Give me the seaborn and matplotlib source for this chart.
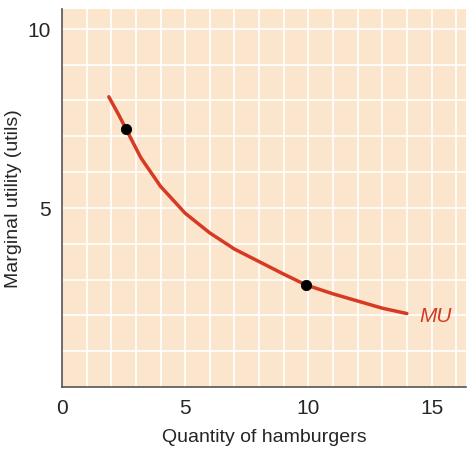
import matplotlib
matplotlib.use("Agg")
import matplotlib.pyplot as plt
import seaborn as sns

curve_x = [1.9, 2.3, 2.6, 3.2, 4.0, 5.0, 6.0, 7.0, 8.0, 9.0, 9.9, 11.0, 12.0, 13.0, 14.0]
curve_y = [8.1, 7.6, 7.2, 6.4, 5.6, 4.85, 4.3, 3.85, 3.5, 3.15, 2.85, 2.6, 2.4, 2.2, 2.05]
pts_x = [2.6, 9.9]
pts_y = [7.2, 2.85]

sns.set_style("white")
plt.rcParams['font.family'] = ['Liberation Sans', 'DejaVu Sans']
fig = plt.figure(figsize=(4.74, 4.52), dpi=100)
ax = fig.add_axes([62/474, 64/452, 404/474, 378/452])
ax.set_facecolor('#fbe5cc')
ax.set_xlim(0, 16.4)
ax.set_ylim(0, 10.55)
for v in range(1, 17):
    ax.axvline(v, color='white', lw=1.2, zorder=1)
for v in range(1, 11):
    ax.axhline(v, color='white', lw=1.2, zorder=1)
sns.lineplot(x=curve_x, y=curve_y, ax=ax, color='#d63a22', lw=2.5, zorder=3)
sns.scatterplot(x=pts_x, y=pts_y, ax=ax, color='black', s=55, zorder=4, edgecolor='black')
ax.text(14.5, 2.0, 'MU', color='#d63a22', fontsize=15, style='italic', va='center')
ax.set_xticks([0, 5, 10, 15])
ax.set_yticks([5, 10])
ax.tick_params(length=0, labelsize=15, pad=8)
ax.set_xlabel('Quantity of hamburgers', fontsize=14, labelpad=8)
ax.set_ylabel('Marginal utility (utils)', fontsize=14, labelpad=4)
for s in ['top', 'right']:
    ax.spines[s].set_visible(False)
for s in ['left', 'bottom']:
    ax.spines[s].set_color('#555555')
    ax.spines[s].set_linewidth(1.2)
fig.savefig('out.png', dpi=100)
